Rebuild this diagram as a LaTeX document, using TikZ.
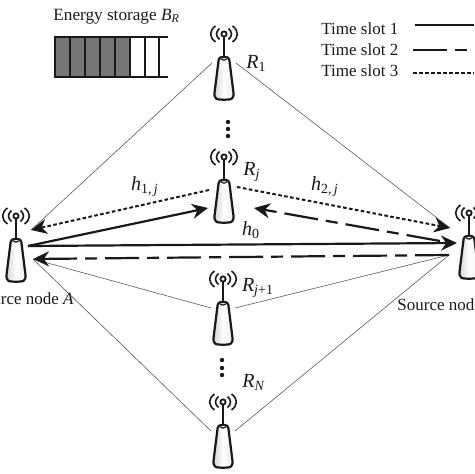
\documentclass[tikz,border=0pt]{standalone}
\usepackage{fontspec}
\setmainfont{Liberation Serif}
\usepackage{tikz}
\usetikzlibrary{positioning, arrows.meta}
\definecolor{ink}{RGB}{25,25,25}
\definecolor{cellgray}{RGB}{118,118,118}
\newcommand{\ital}[1]{\textit{#1}}
\newcommand{\low}[1]{\textsubscript{#1}}
\tikzset{
  towerbox/.style={minimum width=12pt,minimum height=36pt,inner sep=0pt,outer sep=0pt},
  tower/.pic={
    \draw[ink,line width=1.1pt,left color=gray!35,right color=gray!15,middle color=white,
      rounded corners=1.5pt]
      (-5,-6) -- (5,-6) -- (10,34) .. controls (6,37) and (-6,37) .. (-10,34) -- cycle;
    \draw[ink,line width=1.2pt] (0,-26) -- (0,-6);
    \draw[ink,line width=0.9pt,fill=white] (0,-29) circle (2.6);
    \draw[ink,line width=0.6pt] (-3,-4) .. controls (-1,-2.5) and (1,-2.5) .. (3,-4);
    \foreach \s in {-1,1} {
      \draw[ink,line width=0.8pt] (\s*4.5,-34.5) .. controls (\s*8.5,-31) and (\s*8.5,-27) .. (\s*4.5,-23.5);
      \draw[ink,line width=0.8pt] (\s*8.5,-37) .. controls (\s*15,-32) and (\s*15,-26) .. (\s*8.5,-21);
    }
  },
  lbl/.style={font=\fontsize{8.5pt}{10pt}\selectfont,text=ink,inner sep=0pt},
  symlbl/.style={font=\fontsize{10pt}{11pt}\selectfont,text=ink,inner sep=0pt},
  slotlbl/.style={font=\fontsize{8.5pt}{10pt}\selectfont,text=ink,inner sep=0pt,anchor=west},
  arr/.style={-{Stealth[length=8pt,width=7.5pt]},line width=1.1pt,ink},
  slotone/.style={line width=1.1pt,ink},
  slottwo/.style={line width=1.1pt,ink,dash pattern=on 17pt off 4pt on 6pt off 4pt},
  slotthree/.style={line width=1pt,ink,dash pattern=on 1.8pt off 1.2pt},
  thin link/.style={line width=0.3pt,black!65},
  dotmark/.style={circle,fill=ink,minimum size=2.2pt,inner sep=0pt},
}
\begin{document}
\begin{tikzpicture}[x=0.5pt,y=-0.5pt]
  \useasboundingbox (0,0) rectangle (474,474);
  % towers
  \node[towerbox] (r1) at (224,63) {};
  \node[towerbox] (rj) at (224,186) {};
  \node[towerbox] (rk) at (223,308) {};
  \node[towerbox] (rn) at (223,431) {};
  \node[towerbox] (srca) at (16,245) {};
  \node[towerbox] (srcb) at (469,242) {};
  \foreach \n in {r1,rj,rk,rn,srca,srcb} \pic at (\n) {tower};
  % link ends
  \coordinate (aup) at (31,230);
  \coordinate (aout) at (28,246);
  \coordinate (alow) at (33,259);
  \coordinate (bup) at (450,228);
  \coordinate (bin) at (457,243);
  \coordinate (bdash) at (440,241);
  \coordinate (blow) at (449,255);
  \coordinate (rjleft) at (209,190);
  \coordinate (rjright) at (237,187);
  \coordinate (rjin) at (208,208);
  \coordinate (rjback) at (254,208);
  % thin links
  \draw[thin link] (r1.west) -- (aup);
  \draw[thin link] (r1.east) -- (bup);
  \draw[thin link] (rk.west) -- (alow);
  \draw[thin link] (rk.east) -- (blow);
  \draw[thin link] (rn.west) -- (alow);
  \draw[thin link] (rn.east) -- (blow);
  % time slots
  \draw[arr] (aout) -- (rjin);
  \draw[arr] (aout) -- (bin);
  \draw[arr,dash pattern=on 17pt off 4pt on 6pt off 4pt] (blow) -- (alow);
  \draw[arr,dash pattern=on 17pt off 4pt on 6pt off 4pt] (bdash) -- (rjback);
  \draw[slotthree,-{Stealth[length=8pt,width=7.5pt]}] (rjleft) -- (aup);
  \draw[slotthree,-{Stealth[length=8pt,width=7.5pt]}] (rjright) -- (bup);
  % vertical dots
  \foreach \y in {122,129,136} \node[dotmark] (up\y) at (228,\y) {};
  \foreach \y in {360,368,375} \node[dotmark] (lo\y) at (222,\y) {};
  % labels
  \node[symlbl,right=5pt of r1] (lr1) {\ital{R}\low{1}};
  \node[symlbl] (lrj) at (252,172) {\ital{R}\low{\ital{j}}};
  \node[symlbl] (lrk) at (258,288) {\ital{R}\low{\ital{j}+1}};
  \node[symlbl] (lrn) at (254,382) {\ital{R}\low{\ital{N}}};
  \node[symlbl] (hone) at (145,187) {\ital{h}\low{1,\,\ital{j}}};
  \node[symlbl] (htwo) at (325,187) {\ital{h}\low{2,\,\ital{j}}};
  \node[symlbl] (hzero) at (251,230) {\ital{h}\low{0}};
  \node[lbl,anchor=east] (namea) at (74,299) {Source node \ital{A}};
  \node[lbl,anchor=west] (nameb) at (397,305) {Source node \ital{B}};
  % storage
  \node[symlbl,font=\fontsize{8.6pt}{11pt}\selectfont,anchor=west] (store) at (53,17) {Energy storage \ital{B}\low{\ital{R}}};
  \foreach \x in {55,70,85,100,115} \fill[cellgray] (\x,37) rectangle (\x+15,77);
  \draw[ink,line width=0.9pt] (168,37) -- (55,37) -- (55,77) -- (168,77);
  \foreach \x in {70,85,100,115,130,145,159} \draw[ink,line width=0.9pt] (\x,37) -- (\x,77);
  % legend
  \node[slotlbl] (one) at (321,29) {Time slot 1};
  \node[slotlbl] (two) at (321,50) {Time slot 2};
  \node[slotlbl] (three) at (321,71) {Time slot 3};
  \coordinate (oneend) at (474,25);
  \coordinate (twoend) at (474,50);
  \coordinate (threeend) at (474,73);
  \draw[slotone] (415,25) -- (oneend);
  \draw[slottwo] (413,50) -- (twoend);
  \draw[slotthree] (413,73) -- (threeend);
\end{tikzpicture}
\end{document}
